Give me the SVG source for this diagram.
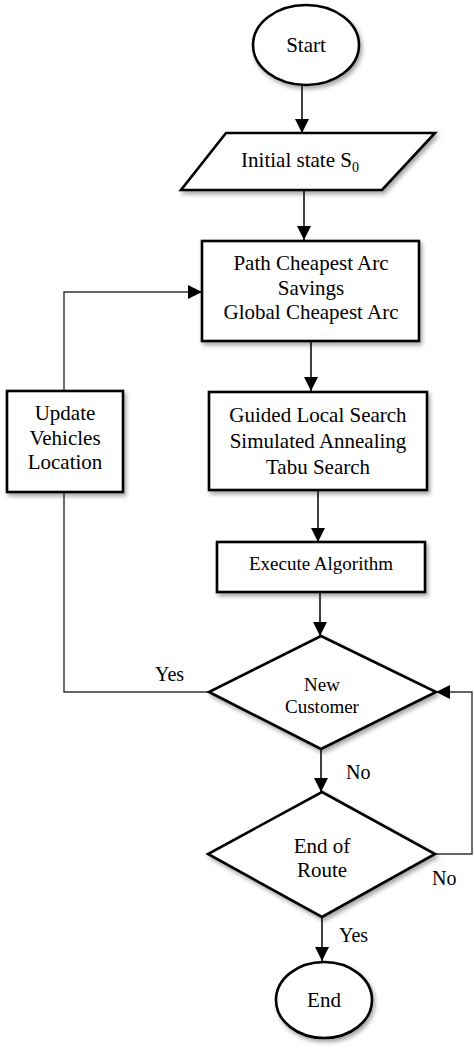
<svg xmlns="http://www.w3.org/2000/svg" width="474" height="1052" viewBox="0 0 474 1052">
<style>
.shape{fill:#fff;stroke:#000;stroke-width:2.6;filter:url(#sh)}
.t{font-family:"Liberation Serif","Times New Roman",serif;font-size:21px;fill:#000;text-anchor:middle}
.s{font-size:19px}
.lbl{font-family:"Liberation Serif","Times New Roman",serif;font-size:20px;fill:#000}
.c{fill:none;stroke:#000;stroke-width:1.5}
.c2{fill:none;stroke:#333;stroke-width:1.4}
</style>
<defs>
<filter id="sh" x="-20%" y="-20%" width="140%" height="150%">
<feDropShadow dx="2" dy="3" stdDeviation="2" flood-color="#000" flood-opacity="0.35"/>
</filter>
<marker id="ah" markerUnits="userSpaceOnUse" markerWidth="14" markerHeight="14" viewBox="0 0 14 14" refX="14" refY="7" orient="auto">
<path d="M0,0 L14,7 L0,14 Z" fill="#000"/>
</marker>
</defs>
<rect width="474" height="1052" fill="#fff"/>
<g id="connectors">
<line class="c" x1="302" y1="85" x2="302" y2="133" marker-end="url(#ah)"/>
<line class="c" x1="304" y1="190" x2="304" y2="240" marker-end="url(#ah)"/>
<line class="c" x1="311" y1="341" x2="311" y2="391" marker-end="url(#ah)"/>
<line class="c" x1="318" y1="490" x2="318" y2="542" marker-end="url(#ah)"/>
<line class="c" x1="320" y1="592" x2="320" y2="636" marker-end="url(#ah)"/>
<line class="c" x1="321" y1="749" x2="321" y2="792" marker-end="url(#ah)"/>
<line class="c" x1="322" y1="917" x2="322" y2="961" marker-end="url(#ah)"/>
<polyline class="c2" points="209,692 64,692 64,492"/>
<polyline class="c2" points="64,391 64,292 202,292" marker-end="url(#ah)"/>
<polyline class="c2" points="435,854 472,854 472,692 436,692" marker-end="url(#ah)"/>
<text class="lbl" x="155" y="681">Yes</text>
<text class="lbl" x="346" y="779">No</text>
<text class="lbl" x="432" y="885">No</text>
<text class="lbl" x="339" y="942">Yes</text>
</g>
<g id="start">
<ellipse class="shape" cx="306" cy="45" rx="53" ry="40"/>
<text class="t" x="306" y="52">Start</text>
</g>
<g id="initial">
<polygon class="shape" points="226,133 435,133 382,190 181,190"/>
<text class="t" x="300" y="167">Initial state S<tspan font-size="14" dy="5">0</tspan></text>
</g>
<g id="construct">
<rect class="shape" x="202" y="241" width="217" height="100"/>
<text class="t" x="311" y="270">Path Cheapest Arc</text>
<text class="t" x="311" y="295">Savings</text>
<text class="t" x="311" y="319">Global Cheapest Arc</text>
</g>
<g id="update">
<rect class="shape" x="7" y="391" width="116" height="101"/>
<text class="t" x="65" y="420">Update</text>
<text class="t" x="65" y="445">Vehicles</text>
<text class="t" x="65" y="469">Location</text>
</g>
<g id="meta">
<rect class="shape" x="209" y="392" width="218" height="98"/>
<text class="t" x="318" y="422">Guided Local Search</text>
<text class="t" x="318" y="448">Simulated Annealing</text>
<text class="t" x="318" y="474">Tabu Search</text>
</g>
<g id="execute">
<rect class="shape" x="217" y="542" width="208" height="50"/>
<text class="t s" x="321" y="570">Execute Algorithm</text>
</g>
<g id="newcustomer">
<polygon class="shape" points="321,636 436,692 321,749 209,692"/>
<text class="t s" x="322" y="691">New</text>
<text class="t s" x="322" y="713">Customer</text>
</g>
<g id="endofroute">
<polygon class="shape" points="322,792 435,854 322,917 208,854"/>
<text class="t" x="322" y="853">End of</text>
<text class="t" x="322" y="877">Route</text>
</g>
<g id="end">
<ellipse class="shape" cx="324" cy="1000" rx="48" ry="38"/>
<text class="t" x="324" y="1007">End</text>
</g>
</svg>
